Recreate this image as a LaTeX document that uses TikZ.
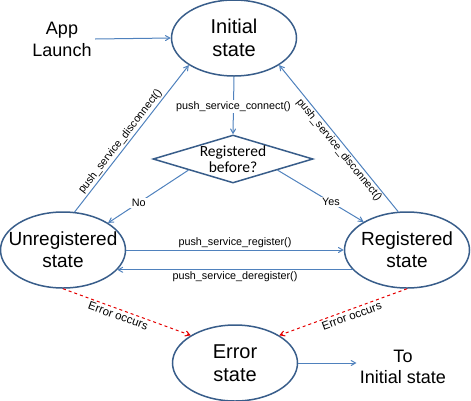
\documentclass[tikz,border=0pt]{standalone}
\usepackage{fontspec}
\setmainfont{Liberation Sans}
\newfontfamily\calibrifont{Carlito}
\usetikzlibrary{arrows,shapes.geometric}
\definecolor{linkblue}{RGB}{79,129,189}
\definecolor{rimblue}{RGB}{56,93,138}

\begin{document}
\begin{tikzpicture}[x=1pt,y=-1pt,>=angle 60]
	\tikzstyle{state}=[ellipse, draw=rimblue, line width=1.5pt, minimum width=125pt, minimum height=76pt, inner sep=0pt]
	\tikzstyle{big}=[align=center, font=\fontsize{19}{22}\selectfont]
	\tikzstyle{link}=[->, draw=linkblue, line width=1pt]
	\tikzstyle{fault}=[->, draw=red!90!black, dashed, line width=1pt]
	\tikzstyle{call}=[font=\fontsize{10.8}{12}\selectfont, inner sep=1.5pt]
	\tikzstyle{warn}=[font=\fontsize{11.5}{13}\selectfont, inner sep=2pt]
	\useasboundingbox (0,0) rectangle (471,400);
	% states
	\node[state] (init) at (234,38) {};
	\node[big, font=\fontsize{20}{23}\selectfont] (initlabel) at (init) {Initial\\state};
	\node[state] (unreg) at (63,250) {};
	\node[big] (unreglabel) at (unreg) {Unregistered\\state};
	\node[state] (reg) at (407,250) {};
	\node[big] (reglabel) at (reg) {Registered\\state};
	\node[state] (error) at (235,363) {};
	\node[big, font=\fontsize{20}{23}\selectfont] (errorlabel) at (error) {Error\\state};
	\node[diamond, draw=rimblue, line width=1.5pt, minimum width=160pt, minimum height=48pt, inner sep=0pt] (asked) at (233,159) {};
	\node[align=center, font=\calibrifont\fontsize{15.5}{16}\selectfont] (askedlabel) at (asked) {Registered\\before?};
	\node[big, font=\fontsize{18}{22}\selectfont] (app) at (62,39) {App\\Launch};
	\node[big, font=\fontsize{18}{21}\selectfont] (toinit) at (403,367) {To\\Initial state};

	% transitions
	\draw[link] (app.east) -- (init.west);
	\draw[link] (init.south) -- node[call, fill=white, pos=0.52] {push\_service\_connect()} (asked.north);
	\draw[link] (asked.194) -- node[call, fill=white, pos=0.62] {No} (unreg.31);
	\draw[link] (asked.346) -- node[call, fill=white, pos=0.62] {Yes} (reg.147);
	\draw[link] (unreg.east) -- node[call, above] {push\_service\_register()} (reg.west);
	\draw[link] (reg.200) -- node[call, below] {push\_service\_deregister()} (unreg.340);
	\draw[link] (unreg.73) -- node[call, sloped, above, pos=0.45] {push\_service\_disconnect()} (init.211);
	\draw[link] (reg.103) -- node[call, sloped, below, pos=0.45] {push\_service\_disconnect()} (init.329);
	\draw[fault] (unreg.south) -- node[warn, sloped, below, pos=0.45] {Error occurs} (error.148);
	\draw[fault] (reg.south) -- node[warn, sloped, below, pos=0.45] {Error occurs} (error.32);
	\draw[link] (error.east) -- (error.east -| toinit.west);
\end{tikzpicture}
\end{document}
